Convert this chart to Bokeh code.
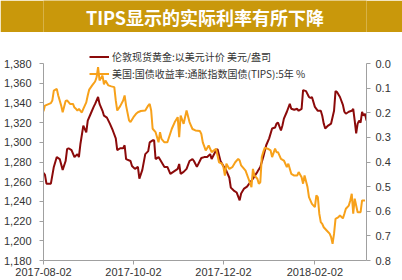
import pandas as pd
from bokeh.plotting import figure
from bokeh.layouts import column
from bokeh.models import (Range1d, LinearAxis, FixedTicker, NumeralTickFormatter,
                          DatetimeTickFormatter, Legend, LegendItem)
from bokeh.core.properties import value
from bokeh.embed import file_html
from bokeh.resources import INLINE

title_text = "TIPS显示的实际利率有所下降"
gold_label = "伦敦现货黄金:以美元计价 美元/盎司"
tips_label = "美国:国债收益率:通胀指数国债(TIPS):5年 %"

gold_dates = [
    "2017-08-02", "2017-08-03", "2017-08-04", "2017-08-07", "2017-08-09", "2017-08-11", "2017-08-13",
    "2017-08-15", "2017-08-17", "2017-08-18", "2017-08-19", "2017-08-21", "2017-08-23", "2017-08-25",
    "2017-08-26", "2017-08-27", "2017-08-29", "2017-08-31", "2017-09-01", "2017-09-03", "2017-09-05",
    "2017-09-06", "2017-09-08", "2017-09-09", "2017-09-11", "2017-09-12", "2017-09-14", "2017-09-16",
    "2017-09-18", "2017-09-20", "2017-09-21", "2017-09-23", "2017-09-25", "2017-09-26", "2017-09-27",
    "2017-09-30", "2017-10-01", "2017-10-03", "2017-10-05", "2017-10-06", "2017-10-08", "2017-10-10",
    "2017-10-12", "2017-10-13", "2017-10-15", "2017-10-16", "2017-10-17", "2017-10-19", "2017-10-21",
    "2017-10-23", "2017-10-25", "2017-10-27", "2017-10-29", "2017-10-31", "2017-11-01", "2017-11-02",
    "2017-11-03", "2017-11-05", "2017-11-07", "2017-11-09", "2017-11-11", "2017-11-12", "2017-11-14",
    "2017-11-16", "2017-11-17", "2017-11-19", "2017-11-21", "2017-11-23", "2017-11-24", "2017-11-27",
    "2017-11-28", "2017-11-30", "2017-12-02", "2017-12-04", "2017-12-06", "2017-12-07", "2017-12-09",
    "2017-12-11", "2017-12-13", "2017-12-14", "2017-12-16", "2017-12-18", "2017-12-20", "2017-12-22",
    "2017-12-25", "2017-12-27", "2017-12-29", "2017-12-31", "2018-01-02", "2018-01-04", "2018-01-06",
    "2018-01-07", "2018-01-08", "2018-01-10", "2018-01-11", "2018-01-12", "2018-01-14", "2018-01-16",
    "2018-01-17", "2018-01-19", "2018-01-21", "2018-01-22", "2018-01-24", "2018-01-25", "2018-01-27",
    "2018-01-29", "2018-01-30", "2018-01-31", "2018-02-02", "2018-02-04", "2018-02-06", "2018-02-07",
    "2018-02-08", "2018-02-09", "2018-02-11", "2018-02-13", "2018-02-15", "2018-02-16", "2018-02-17",
    "2018-02-19", "2018-02-21", "2018-02-22", "2018-02-23", "2018-02-25", "2018-02-27", "2018-02-28",
    "2018-03-01", "2018-03-02", "2018-03-03", "2018-03-04", "2018-03-05", "2018-03-06", "2018-03-07",
    "2018-03-08", "2018-03-09",
]
gold_prices = [
    1269, 1267, 1258, 1258, 1275, 1285, 1283,
    1272, 1281, 1293, 1294, 1292, 1285, 1288,
    1285, 1298, 1317, 1310, 1322, 1329, 1336,
    1339, 1346, 1339, 1332, 1327, 1325, 1319,
    1312, 1304, 1292, 1294, 1294, 1297, 1283,
    1281, 1276, 1273, 1275, 1263, 1272, 1288,
    1291, 1300, 1302, 1302, 1283, 1285, 1280,
    1275, 1275, 1268, 1270, 1272, 1273, 1278,
    1268, 1270, 1273, 1281, 1283, 1281, 1275,
    1281, 1284, 1285, 1285, 1288, 1283, 1292,
    1293, 1281, 1276, 1271, 1264, 1254, 1251,
    1249, 1241, 1248, 1253, 1255, 1259, 1263,
    1270, 1275, 1285, 1297, 1304, 1314, 1315,
    1319, 1320, 1312, 1317, 1324, 1331, 1339,
    1334, 1333, 1334, 1332, 1334, 1353, 1352,
    1346, 1345, 1346, 1336, 1332, 1332, 1327,
    1319, 1314, 1317, 1319, 1332, 1352, 1351,
    1346, 1338, 1331, 1329, 1331, 1332, 1334,
    1322, 1309, 1319, 1322, 1320, 1331, 1327,
    1329, 1322,
]

tips_dates = [
    "2017-08-02", "2017-08-03", "2017-08-05", "2017-08-07", "2017-08-08", "2017-08-09", "2017-08-11",
    "2017-08-12", "2017-08-14", "2017-08-15", "2017-08-17", "2017-08-18", "2017-08-20", "2017-08-22",
    "2017-08-23", "2017-08-24", "2017-08-25", "2017-08-26", "2017-08-28", "2017-08-29", "2017-08-31",
    "2017-09-01", "2017-09-02", "2017-09-04", "2017-09-06", "2017-09-07", "2017-09-08", "2017-09-09",
    "2017-09-11", "2017-09-12", "2017-09-13", "2017-09-15", "2017-09-17", "2017-09-19", "2017-09-20",
    "2017-09-21", "2017-09-23", "2017-09-25", "2017-09-26", "2017-09-27", "2017-09-29", "2017-09-30",
    "2017-10-02", "2017-10-04", "2017-10-05", "2017-10-07", "2017-10-10", "2017-10-12", "2017-10-13",
    "2017-10-14", "2017-10-15", "2017-10-17", "2017-10-19", "2017-10-20", "2017-10-21", "2017-10-23",
    "2017-10-25", "2017-10-28", "2017-10-30", "2017-11-01", "2017-11-02", "2017-11-03", "2017-11-05",
    "2017-11-07", "2017-11-09", "2017-11-10", "2017-11-11", "2017-11-13", "2017-11-16", "2017-11-17",
    "2017-11-18", "2017-11-20", "2017-11-22", "2017-11-24", "2017-11-27", "2017-11-29", "2017-12-01",
    "2017-12-02", "2017-12-03", "2017-12-04", "2017-12-06", "2017-12-08", "2017-12-10", "2017-12-12",
    "2017-12-13", "2017-12-14", "2017-12-17", "2017-12-19", "2017-12-21", "2017-12-22", "2017-12-23",
    "2017-12-25", "2017-12-26", "2017-12-27", "2017-12-28", "2017-12-29", "2017-12-30", "2018-01-01",
    "2018-01-03", "2018-01-04", "2018-01-06", "2018-01-07", "2018-01-08", "2018-01-10", "2018-01-12",
    "2018-01-14", "2018-01-15", "2018-01-17", "2018-01-19", "2018-01-21", "2018-01-22", "2018-01-24",
    "2018-01-25", "2018-01-26", "2018-01-28", "2018-01-29", "2018-01-31", "2018-02-02", "2018-02-03",
    "2018-02-04", "2018-02-05", "2018-02-06", "2018-02-07", "2018-02-08", "2018-02-10", "2018-02-12",
    "2018-02-13", "2018-02-14", "2018-02-15", "2018-02-16", "2018-02-18", "2018-02-19", "2018-02-21",
    "2018-02-22", "2018-02-23", "2018-02-25", "2018-02-26", "2018-02-27", "2018-02-28", "2018-03-01",
    "2018-03-03", "2018-03-05", "2018-03-06", "2018-03-08",
]
tips_yields = [
    0.194, 0.171, 0.166, 0.161, 0.150, 0.110, 0.103,
    0.130, 0.171, 0.198, 0.152, 0.150, 0.164, 0.164,
    0.179, 0.184, 0.191, 0.184, 0.199, 0.184, 0.158,
    0.130, 0.106, 0.089, 0.073, 0.056, 0.015, 0.069,
    0.049, 0.085, 0.069, 0.089, 0.093, 0.096, 0.150,
    0.191, 0.173, 0.150, 0.130, 0.171, 0.231, 0.238,
    0.218, 0.203, 0.198, 0.193, 0.191, 0.171, 0.164,
    0.191, 0.265, 0.279, 0.320, 0.279, 0.306, 0.320,
    0.320, 0.265, 0.238, 0.218, 0.299, 0.211, 0.245,
    0.191, 0.238, 0.252, 0.266, 0.272, 0.274, 0.286,
    0.320, 0.353, 0.333, 0.360, 0.346, 0.401, 0.407,
    0.421, 0.455, 0.407, 0.428, 0.421, 0.401, 0.387,
    0.394, 0.414, 0.435, 0.468, 0.502, 0.428, 0.455,
    0.468, 0.488, 0.482, 0.380, 0.360, 0.342, 0.346,
    0.353, 0.380, 0.346, 0.360, 0.360, 0.387, 0.394,
    0.421, 0.407, 0.448, 0.455, 0.455, 0.441, 0.462,
    0.488, 0.455, 0.502, 0.543, 0.570, 0.583, 0.536,
    0.543, 0.610, 0.644, 0.651, 0.665, 0.678, 0.691,
    0.705, 0.732, 0.691, 0.631, 0.624, 0.617, 0.629,
    0.610, 0.590, 0.577, 0.556, 0.529, 0.610, 0.549,
    0.604, 0.604, 0.556, 0.556,
]

x_tick_labels = ["2017-08-02", "2017-10-02", "2017-12-02", "2018-02-02"]
x_start, x_end = "2017-08-02", "2018-03-09"
left_ticks = [1180, 1200, 1220, 1240, 1260, 1280, 1300, 1320, 1340, 1360, 1380]
right_ticks = [0.0, 0.1, 0.2, 0.3, 0.4, 0.5, 0.6, 0.7, 0.8]

GOLD = "#8B0A0A"
ORANGE = "#F7A11A"
BANNER = "#C9980B"
AXIS = "#A0A0A0"
TXT = "#333333"

# axis span 197 px; extra headroom above the top tick so the legend is not clipped
AXIS_PX = 197
HEAD_PX = 19
pad = HEAD_PX / AXIS_PX

# ---- banner ----
pb = figure(width=402, height=32, x_range=Range1d(0, 1), y_range=Range1d(0, 1),
            toolbar_location=None, output_backend="svg", min_border=0)
pb.axis.visible = False
pb.grid.visible = False
pb.outline_line_color = None
pb.background_fill_color = BANNER
pb.border_fill_color = BANNER
pb.text(x=[0.5], y=[0.5], text=[title_text], text_align="center", text_baseline="middle",
        text_color="white", text_font=value("Noto Sans CJK SC"), text_font_size="18px",
        text_font_style="bold")

# ---- main chart ----
y0, y1 = left_ticks[0], left_ticks[-1]
t0, t1 = right_ticks[0], right_ticks[-1]
p = figure(width=402, height=248, x_axis_type="datetime", toolbar_location=None,
           output_backend="svg",
           x_range=Range1d(pd.Timestamp(x_start), pd.Timestamp(x_end)),
           y_range=Range1d(y0, y1 + (y1 - y0) * pad),
           min_border_left=39, min_border_right=36,
           min_border_top=31 - HEAD_PX, min_border_bottom=20)
p.extra_y_ranges = {"tips": Range1d(start=t1, end=t0 - (t1 - t0) * pad)}
p.outline_line_color = None
p.grid.visible = False

r1 = p.line(pd.to_datetime(gold_dates), gold_prices, color=GOLD, line_width=2)
r2 = p.line(pd.to_datetime(tips_dates), tips_yields, color=ORANGE, line_width=2,
            y_range_name="tips")

ra = LinearAxis(y_range_name="tips", ticker=FixedTicker(ticks=right_ticks),
                formatter=NumeralTickFormatter(format="0.0"), bounds=(t0, t1))
p.add_layout(ra, "right")

p.yaxis[0].ticker = FixedTicker(ticks=left_ticks)
p.yaxis[0].formatter = NumeralTickFormatter(format="0,0")
p.yaxis[0].bounds = (y0, y1)
p.xaxis[0].ticker = FixedTicker(ticks=[pd.Timestamp(s).value // 10**6 for s in x_tick_labels])
fmt = "%Y-%m-%d"
p.xaxis[0].formatter = DatetimeTickFormatter(days=fmt, months=fmt, years=fmt, hours=fmt,
                                             hourmin=fmt, minutes=fmt)

for ax in [p.xaxis[0], p.yaxis[0], ra]:
    ax.axis_line_color = AXIS
    ax.major_tick_line_color = AXIS
    ax.major_tick_out = 4
    ax.major_tick_in = 0
    ax.minor_tick_line_color = None
    ax.major_label_text_color = TXT
    ax.major_label_text_font = "Liberation Sans"
    ax.major_label_text_font_size = "11px"
p.yaxis[0].major_label_standoff = 8
ra.major_label_standoff = 5
p.xaxis[0].major_label_standoff = 3

legend = Legend(items=[LegendItem(label=gold_label, renderers=[r1]),
                       LegendItem(label=tips_label, renderers=[r2])],
                location=(46, 178), padding=0, spacing=0, margin=0,
                glyph_height=17, glyph_width=20, label_height=17, label_standoff=3,
                label_text_font="Noto Sans CJK SC", label_text_font_size="10px",
                label_text_color=TXT, border_line_color=None, background_fill_alpha=0)
p.add_layout(legend, "center")

layout = column(pb, p, spacing=0)
open("out.html", "w").write(file_html(layout, INLINE))
